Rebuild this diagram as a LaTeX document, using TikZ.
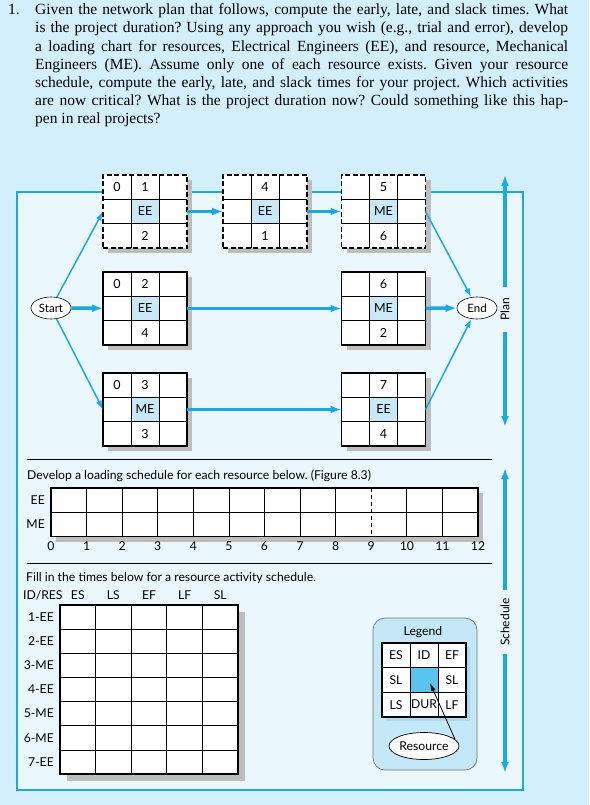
\documentclass[tikz,border=0pt]{standalone}
\usepackage{fontspec}
\setmainfont{Liberation Serif}
\setsansfont{Lato}
\usetikzlibrary{arrows.meta,positioning,calc,shadows,shapes.geometric}
\definecolor{pagebg}{HTML}{D3EFFB}
\definecolor{panelbg}{HTML}{EAF7FD}
\definecolor{planblue}{HTML}{1BA9E1}
\definecolor{cellblue}{HTML}{C9E9F8}
\definecolor{idblue}{HTML}{5BC4EE}
\definecolor{legendbg}{HTML}{C5E8F8}
\definecolor{legshadow}{HTML}{A8DBF2}
\definecolor{shadowgray}{HTML}{BDBDBD}

% cells of one activity box: name, ES, ID, resource, duration
\newcommand{\actcells}[5]{%
  \fill[cellblue] ($(#1.center)+(-14,-12.17)$) rectangle ($(#1.center)+(14,12.17)$);
  \draw[gridline] ($(#1.north)+(-14,0)$) -- ($(#1.south)+(-14,0)$)
    ($(#1.north)+(14,0)$) -- ($(#1.south)+(14,0)$)
    ($(#1.west)+(0,12.17)$) -- ($(#1.east)+(0,12.17)$)
    ($(#1.west)+(0,-12.17)$) -- ($(#1.east)+(0,-12.17)$);
  \node[celltext] (#1es) at ($(#1.center)+(-28,24.33)$) {#2};
  \node[celltext] (#1id) at ($(#1.center)+(0,24.33)$) {#3};
  \node[celltext] (#1res) at (#1.center) {#4};
  \node[celltext] (#1dur) at ($(#1.center)+(0,-24.33)$) {#5};
}

\begin{document}
\frenchspacing
\begin{tikzpicture}[x=1pt,y=1pt,>=Latex,
  act/.style={draw=black,line width=1.5pt,fill=white,minimum width=84pt,minimum height=73pt,
    inner sep=0pt,outer sep=0pt,drop shadow={shadow xshift=5pt,shadow yshift=-5pt,fill=shadowgray,opacity=1}},
  dashact/.style={act,dash pattern=on 5pt off 2.5pt},
  celltext/.style={font=\sffamily\fontsize{12.5}{14}\selectfont,inner sep=0pt},
  gridline/.style={draw=black,line width=0.7pt},
  frame/.style={draw=black,line width=1.5pt},
  term/.style={ellipse,draw=black,line width=0.6pt,fill=white,minimum width=40pt,minimum height=22pt,
    inner sep=0pt,font=\sffamily\fontsize{11.5}{13}\selectfont},
  thinarr/.style={-{Latex[length=9pt,width=6pt]},draw=planblue,line width=1.5pt},
  thickarr/.style={-{Latex[length=11pt,width=8pt]},draw=planblue,line width=3.5pt},
  sidelabel/.style={rotate=90,font=\sffamily\fontsize{12}{14}\selectfont,inner ysep=0pt},
  label/.style={font=\sffamily\fontsize{12.2}{14}\selectfont,inner sep=0pt},
  rule/.style={draw=black,line width=0.8pt}]
\useasboundingbox (0,0) rectangle (589,-805);
\fill[pagebg] (0,0) rectangle (589,-805);

% question
\node[anchor=north west,align=left,inner sep=0pt,font=\fontsize{15.5}{18.2}\selectfont] (question) at (8,-3.5)
  {\makebox[27pt][l]{1.}\makebox[533pt][s]{Given the network plan that follows, compute the early, late, and slack times. What}\\
   \hspace*{27pt}\makebox[533pt][s]{is the project duration? Using any approach you wish (e.g., trial and error), develop}\\
   \hspace*{27pt}\makebox[533pt][s]{a loading chart for resources, Electrical Engineers (EE), and resource, Mechanical}\\
   \hspace*{27pt}\makebox[533pt][s]{Engineers (ME). Assume only one of each resource exists. Given your resource}\\
   \hspace*{27pt}\makebox[533pt][s]{schedule, compute the early, late, and slack times for your project. Which activities}\\
   \hspace*{27pt}\makebox[533pt][s]{are now critical? What is the project duration now? Could something like this hap-}\\
   \hspace*{27pt}pen in real projects?};

% panel
\draw[draw=planblue,line width=2.4pt,fill=panelbg] (17,-192) rectangle (523,-790);

% network plan
\node[dashact] (act1) at (145,-211.5) {};
\node[dashact] (act4) at (265,-211.5) {};
\node[dashact] (act5) at (383.5,-211.5) {};
\node[act] (act2) at (145,-308.5) {};
\node[act] (act6) at (383.5,-308.5) {};
\node[act] (act3) at (145,-409.5) {};
\node[act] (act7) at (383.5,-409.5) {};
\actcells{act1}{0}{1}{EE}{2}
\actcells{act4}{}{4}{EE}{1}
\actcells{act5}{}{5}{ME}{6}
\actcells{act2}{0}{2}{EE}{4}
\actcells{act6}{}{6}{ME}{2}
\actcells{act3}{0}{3}{ME}{3}
\actcells{act7}{}{7}{EE}{4}
\node[term] (start) at (51,-308) {Start};
\node[term] (end) at (477,-308) {End};

\draw[thinarr] (start) -- (act1.west);
\draw[thickarr] (start) -- (act2);
\draw[thinarr] (start) -- (act3.west);
\draw[thickarr] (act1) -- (act4);
\draw[thickarr] (act4) -- (act5);
\draw[thickarr] (act2) -- (act6);
\draw[thickarr] (act3) -- (act7);
\draw[thinarr] (act5.east) -- (end);
\draw[thickarr] (act6) -- (end);
\draw[thinarr] (act7.east) -- (end);

% plan / schedule arrows
\node[sidelabel,inner xsep=11pt] (plan) at (505,-309.5) {Plan};
\coordinate (plantop) at (505,-175);
\coordinate (planbot) at (505,-427);
\draw[thickarr] (plan) -- (plantop);
\draw[thickarr] (plan) -- (planbot);
\node[sidelabel,inner xsep=8pt] (sched) at (505,-622) {Schedule};
\coordinate (schedtop) at (505,-468);
\coordinate (schedbot) at (505,-773);
\draw[thickarr] (sched) -- (schedtop);
\draw[thickarr] (sched) -- (schedbot);

\draw[rule] (27,-459) -- (492,-459);
\draw[rule] (27,-563) -- (492,-563);

% loading chart
\node[label,anchor=west] (loadtitle) at (27,-475.5) {Develop a loading schedule for each resource below. (Figure 8.3)};
\fill[shadowgray] (56,-493) rectangle (483,-541.7);
\fill[white] (51,-488) rectangle (478,-536.7);
\foreach \i in {1,...,8,10,11}
  \draw[gridline] ({51+35.583*\i},-488) -- ({51+35.583*\i},-536.7);
\draw[gridline,dash pattern=on 4pt off 3pt] ({51+35.583*9},-488) -- ({51+35.583*9},-536.7);
\draw[gridline] (51,-512.3) -- (478,-512.3);
\draw[frame] (51,-488) rectangle (478,-536.7);
\node[label,anchor=east] (loadee) at (45,-500) {EE};
\node[label,anchor=east] (loadme) at (45,-524.5) {ME};
\foreach \i in {0,...,12}
  \node[label] (tick\i) at ({51+35.583*\i},-546.5) {\i};

% activity schedule table
\node[label,anchor=west] (tabtitle) at (26,-578) {Fill in the times below for a resource activity schedule.};
\node[label,anchor=west] (headid) at (23,-595) {ID/RES};
\foreach \h [count=\k from 0] in {ES,LS,EF,LF,SL}
  \node[label] (head\k) at ({77.8+35.6*\k},-595) {\h};
\fill[shadowgray] (66.5,-611.5) rectangle (244.5,-780.5);
\fill[white] (60,-605) rectangle (238,-774);
\foreach \k in {1,...,4}
  \draw[gridline] ({60+35.6*\k},-605) -- ({60+35.6*\k},-774);
\foreach \j in {1,...,6}
  \draw[gridline] (60,{-605-24.143*\j}) -- (238,{-605-24.143*\j});
\draw[frame] (60,-605) rectangle (238,-774);
\foreach \r [count=\j] in {1-EE,2-EE,3-ME,4-EE,5-ME,6-ME,7-EE}
  \node[label,anchor=east] (row\j) at (54,{-605-24.143*\j+12.07}) {\r};

% legend
\draw[draw=black!55,line width=0.7pt,fill=legendbg,rounded corners=12pt] (373,-618) rectangle (477,-770);
\node[label] (legtitle) at (423,-632) {Legend};
\fill[legshadow] (386,-647) rectangle (470,-721);
\fill[white] (382,-643) rectangle (466,-717);
\fill[idblue] (410,-667.67) rectangle (438,-692.33);
\draw[gridline] (410,-643) -- (410,-717) (438,-643) -- (438,-717)
  (382,-667.67) -- (466,-667.67) (382,-692.33) -- (466,-692.33);
\draw[frame] (382,-643) rectangle (466,-717);
\foreach \t [count=\i from 0] in {ES,ID,EF,SL,,SL,LS,DUR,LF} {
  \pgfmathtruncatemacro\col{mod(\i,3)}
  \pgfmathtruncatemacro\rowi{int(\i/3)}
  \node[label] (leg\i) at ({396+28*\col},{-655.33-24.67*\rowi}) {\t};
}
\node[ellipse,draw=black,line width=0.7pt,fill=white,minimum width=70pt,minimum height=27pt,
  inner sep=0pt,font=\sffamily\fontsize{12.2}{14}\selectfont] (resource) at (424,-746) {Resource};
\coordinate (legtip) at (430,-683);
\draw[-{Latex[length=8pt,width=4.5pt]},line width=0.8pt] (resource.12) -- (legtip);
\end{tikzpicture}
\end{document}
